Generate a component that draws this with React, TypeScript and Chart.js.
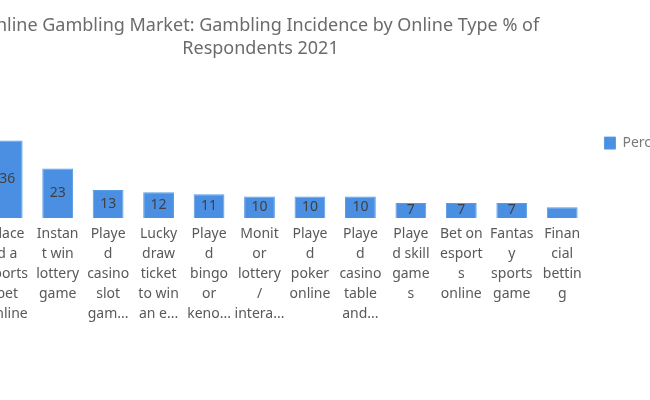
import { useEffect, useRef } from "react";
import { Chart, registerables } from "chart.js";

Chart.register(...registerables);

const titleLines = [
  "Online Gambling Market: Gambling Incidence by Online Type % of",
  "Respondents 2021",
];
const seriesName = "Percentage";
const categories = [
  ["Place", "d a", "sports", "bet", "online"],
  ["Instan", "t win", "lottery", "game"],
  ["Playe", "d", "casino", "slot", "gam..."],
  ["Lucky", "draw", "ticket", "to win", "an e..."],
  ["Playe", "d", "bingo", "or", "keno..."],
  ["Monit", "or", "lottery", "/", "intera..."],
  ["Playe", "d", "poker", "online"],
  ["Playe", "d", "casino", "table", "and..."],
  ["Playe", "d skill", "game", "s"],
  ["Bet on", "esport", "s", "online"],
  ["Fantas", "y", "sports", "game"],
  ["Finan", "cial", "bettin", "g"],
];
const values = [36, 23, 13, 12, 11, 10, 10, 10, 7, 7, 7, 5];

const FONT = "'Noto Sans', sans-serif";

// numbers in the middle of each bar (too short bars get none)
const barValues = {
  id: "barValues",
  afterDatasetsDraw(chart: Chart) {
    const { ctx } = chart;
    const meta = chart.getDatasetMeta(0);
    ctx.save();
    ctx.font = `14px ${FONT}`;
    ctx.fillStyle = "#404040";
    ctx.textAlign = "center";
    ctx.textBaseline = "middle";
    meta.data.forEach((bar: any, i) => {
      const h = bar.base - bar.y;
      if (h < 12) return;
      ctx.fillText(String(values[i]), bar.x, (bar.y + bar.base) / 2);
    });
    ctx.restore();
  },
};

export default function App() {
  const chartRef = useRef<HTMLCanvasElement>(null);
  const chartInstance = useRef<Chart | null>(null);

  useEffect(() => {
    if (!chartRef.current) return;
    if (chartInstance.current) chartInstance.current.destroy();

    chartInstance.current = new Chart(chartRef.current, {
      type: "bar",
      data: {
        labels: categories,
        datasets: [
          {
            label: seriesName,
            data: values,
            backgroundColor: "#4a8fe2",
            borderColor: "#5a9be6",
            borderWidth: 1,
            barPercentage: 0.61,
            categoryPercentage: 1,
          },
        ],
      },
      options: {
        responsive: true,
        maintainAspectRatio: false,
        animation: false,
        layout: {
          padding: { left: 0, right: 0, top: 0, bottom: 70 },
        },
        plugins: {
          title: {
            display: true,
            text: titleLines,
            color: "#6b6b6b",
            font: { family: FONT, size: 18, weight: "normal", lineHeight: 1.28 },
            padding: { top: 14, bottom: 59 },
          },
          legend: {
            position: "right",
            align: "start",
            fullSize: false,
            labels: {
              boxWidth: 11,
              boxHeight: 12,
              padding: 17,
              color: "#7a7a7a",
              font: { family: FONT, size: 14 },
            },
          },
          tooltip: { enabled: false },
        },
        scales: {
          x: {
            grid: { display: false, drawTicks: false },
            border: { display: false },
            ticks: {
              autoSkip: false,
              maxRotation: 0,
              padding: 6,
              color: "#595959",
              font: { family: FONT, size: 14, lineHeight: 20 / 14 },
            },
          },
          y: {
            min: 0,
            max: 46,
            grid: { display: false, drawTicks: false },
            border: { display: false },
            ticks: { display: false },
            // empty left margin: the picture is cropped from a wider chart
            afterFit: (axis: any) => {
              axis.width = 168;
            },
          },
        },
      },
      plugins: [barValues],
    });

    return () => {
      if (chartInstance.current) {
        chartInstance.current.destroy();
        chartInstance.current = null;
      }
    };
  }, []);

  return (
    <div
      style={{
        position: "fixed",
        left: 0,
        top: 0,
        width: 650,
        height: 400,
        overflow: "hidden",
        background: "#fff",
      }}
    >
      <div style={{ position: "absolute", left: -186, top: 0, width: 893, height: 400 }}>
        <canvas ref={chartRef}></canvas>
      </div>
    </div>
  );
}
